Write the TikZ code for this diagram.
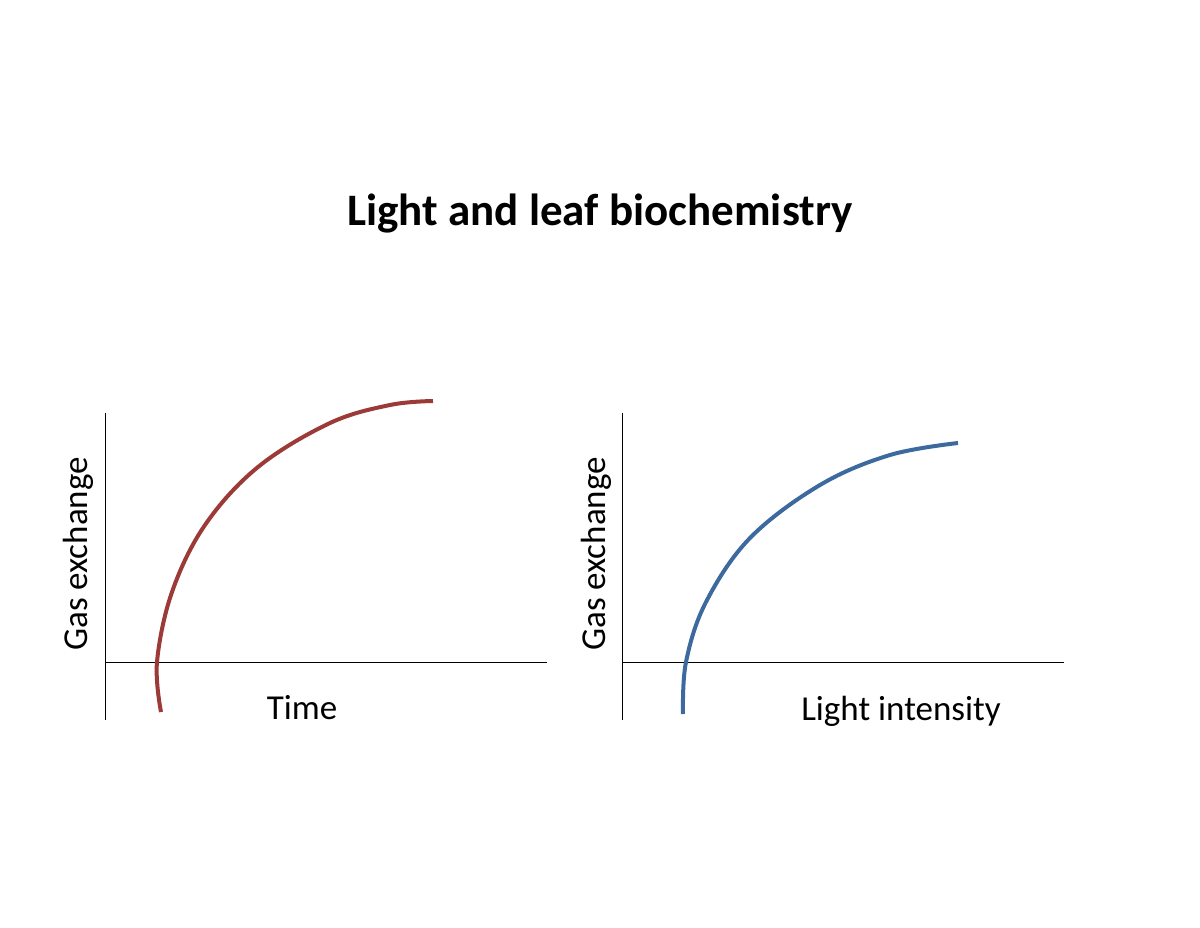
\documentclass[tikz,border=0pt]{standalone}
\usepackage{fontspec}
\setmainfont{Carlito}
\begin{document}
\begin{tikzpicture}[x=1pt,y=-1pt,
  axis/.style={line width=1pt,black},
  curve/.style={line width=4pt},
  lbl/.style={font=\fontsize{35}{40}\selectfont}]
\useasboundingbox (0,0) rectangle (1200,927);
\node[font=\bfseries\fontsize{45}{50}\selectfont] (title) at (600,214) {Light and leaf biochemistry};
% left
\coordinate (lt) at (105,413); \coordinate (lb) at (105,720);
\coordinate (lo) at (105,662); \coordinate (lr) at (547,662);
\draw[axis] (lt) -- (lb); \draw[axis] (lo) -- (lr);
\draw[curve,color={rgb,255:red,155;green,58;blue,55}] plot[smooth,tension=0.6] coordinates
 {(161,712) (157,662) (172,592) (205,525) (258,467) (330,423) (390,405) (433,401)};
\node[lbl,rotate=90] (ly) at (78,554) {Gas exchange};
\node[lbl] (lx) at (302,708) {Time};
% right
\coordinate (rt) at (622,413); \coordinate (rb) at (622,720);
\coordinate (ro) at (622,662); \coordinate (rr) at (1064,662);
\draw[axis] (rt) -- (rb); \draw[axis] (ro) -- (rr);
\draw[curve,color={rgb,255:red,61;green,106;blue,158}] plot[smooth,tension=0.6] coordinates
 {(683,714) (686,662) (706,602) (750,538) (820,485) (890,455) (958,443)};
\node[lbl,rotate=90] (ry) at (596,554) {Gas exchange};
\node[lbl] (rx) at (901,711) {Light intensity};
\end{tikzpicture}
\end{document}
